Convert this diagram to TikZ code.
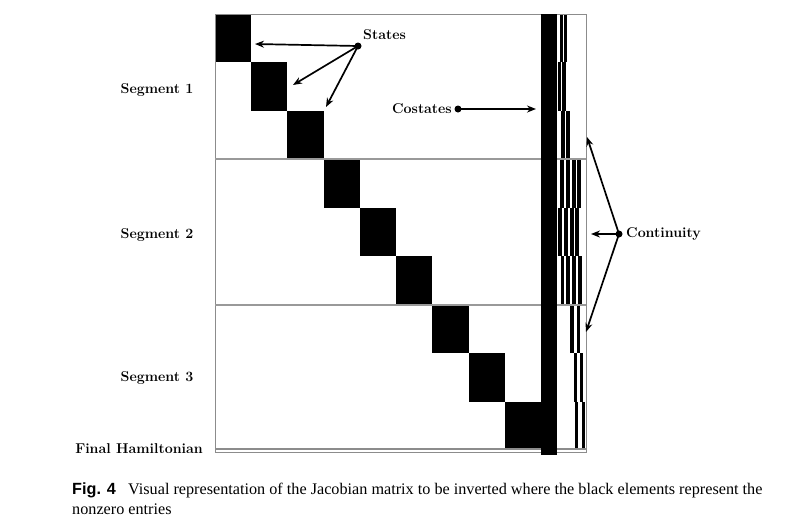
\documentclass[tikz,border=0pt]{standalone}
\usepackage{fontspec}
\newfontfamily\capserif{Liberation Serif}
\newfontfamily\capsans{Liberation Sans}
\usetikzlibrary{arrows.meta}
\begin{document}
\begin{tikzpicture}[x=1pt,y=-1pt,
  lab/.style={font=\fontsize{14.2}{16}\selectfont\bfseries, inner sep=0pt},
  arr/.style={line width=1.7pt, -{Stealth[length=9pt,width=7pt]}},
  dotnode/.style={circle, fill=black, inner sep=0pt, minimum size=7pt},
  segline/.style={draw=black!40, line width=1.8pt},
  frameline/.style={draw=black!45, line width=0.9pt},
  capfont/.style={font=\fontsize{16.2}{19}\selectfont\capserif, inner sep=0pt, anchor=base west}]
\useasboundingbox (0,0) rectangle (793,520);
\fill[white] (0,0) rectangle (793,520);
% diagonal state blocks
\foreach \i in {0,...,8} {
  \fill ({215+36.22*\i},{14+48.44*\i}) rectangle ({215+36.22*(\i+1)},{14+48.44*(\i+1)});
}
% continuity stripes
\foreach \ya/\yb/\xa/\xb in {
  14/62.4/560.4/562.6, 14/62.4/563.6/566.6,
  62.4/110.9/558.2/560.8, 62.4/110.9/562.4/566,
  110.9/159.3/561.4/564.6, 110.9/159.3/566.4/570.3,
  159.3/207.8/560.4/563.6, 159.3/207.8/565.7/569.6, 159.3/207.8/571.7/575.6, 159.3/207.8/577/581,
  207.8/256.2/558.4/562.3, 207.8/256.2/563.7/567.6, 207.8/256.2/569.7/573.6, 207.8/256.2/575/579,
  256.2/304.7/561/564.3, 256.2/304.7/566.4/570.3, 256.2/304.7/572.4/576.3, 256.2/304.7/578.4/582.3,
  304.7/353.1/570.4/573.6, 304.7/353.1/577/580.3,
  353.1/401.6/573.7/576.6, 353.1/401.6/579.7/583,
  401.6/450/574.7/577.6, 401.6/450/581.7/585.4} {
  \fill (\xa,\ya) rectangle (\xb,\yb);
}
% frame and segment lines
\draw[frameline] (215,452.5) -- (215,14) -- (586,14) -- (586,452.5);
\draw[segline] (215,159.3) -- (586,159.3);
\draw[segline] (215,304.7) -- (586,304.7);
\draw[frameline, line width=1.3pt] (215,449) -- (586,449);
\draw[frameline, line width=1.3pt] (215,452.5) -- (586,452.5);
% costates column
\fill (541,14) rectangle (557.3,455);
% row labels
\node[lab] (seg1) at (157,90) {Segment 1};
\node[lab] (seg2) at (157,235) {Segment 2};
\node[lab] (seg3) at (157,378) {Segment 3};
\node[lab, anchor=east] (fham) at (203,449) {Final Hamiltonian};
% States
\node[lab, anchor=west] (states) at (363,35) {States};
\node[dotnode] (sdot) at (358,46) {};
\coordinate (st1) at (255,44);
\coordinate (st2) at (293,85);
\coordinate (st3) at (326,107);
\draw[arr] (sdot.center) -- (st1);
\draw[arr] (sdot.center) -- (st2);
\draw[arr] (sdot.center) -- (st3);
% Costates
\node[lab, anchor=east] (costates) at (452,109) {Costates};
\node[dotnode] (cdot) at (458,109) {};
\coordinate (ct) at (536,109);
\draw[arr] (cdot.center) -- (ct);
% Continuity
\node[lab, anchor=west] (cont) at (626,234) {Continuity};
\node[dotnode] (kdot) at (619,234) {};
\coordinate (k1) at (587,137);
\coordinate (k2) at (591,234);
\coordinate (k3) at (586,332);
\draw[arr] (kdot.center) -- (k1);
\draw[arr] (kdot.center) -- (k2);
\draw[arr] (kdot.center) -- (k3);
% caption
\node[capfont] (figlab) at (72,494) {\capsans\bfseries Fig. 4};
\node[capfont] (cap1) at (128,494) {Visual representation of the Jacobian matrix to be inverted where the black elements represent the};
\node[capfont] (cap2) at (72,514) {nonzero entries};
\end{tikzpicture}
\end{document}
